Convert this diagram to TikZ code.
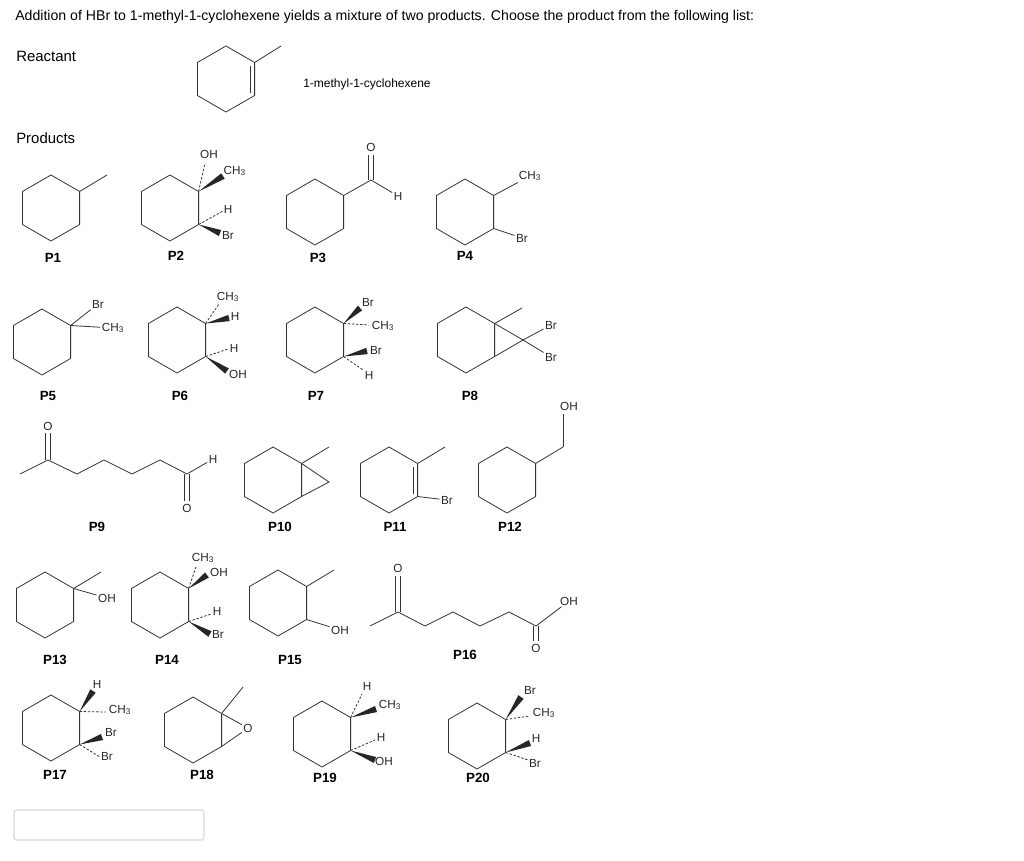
\documentclass[tikz,border=0pt]{standalone}
\usepackage{fontspec}
\setmainfont{Liberation Sans}
\usetikzlibrary{calc}
\tikzset{
 bond/.style={line width=0.6pt,draw=black!80},
 hbond/.style={bond,dash pattern=on 1.8pt off 1.3pt},
 sub/.style={font=\fontsize{8.8}{10}\selectfont,inner sep=1pt,text=black!85},
 plab/.style={font=\bfseries\fontsize{10}{12}\selectfont},
 txt/.style={font=\fontsize{10.6}{12}\selectfont,anchor=west,inner sep=0},
}
\newcommand\ring[3]{%
 \coordinate (#1t) at (#2,{#3-33});
 \coordinate (#1r1) at ({#2+28.6},{#3-16.5});
 \coordinate (#1r2) at ({#2+28.6},{#3+16.5});
 \coordinate (#1b) at (#2,{#3+33});
 \coordinate (#1l2) at ({#2-28.6},{#3+16.5});
 \coordinate (#1l1) at ({#2-28.6},{#3-16.5});
 \draw[bond] (#1t)--(#1r1)--(#1r2)--(#1b)--(#1l2)--(#1l1)--cycle;}
\newcommand\wdg[2]{\fill[black!85] (#1) -- ($(#2)!2.4pt!90:(#1)$) -- ($(#2)!2.4pt!-90:(#1)$) -- cycle;}
\newcommand\dbl[2]{\draw[bond] ($(#1)!2pt!90:(#2)$) -- ($(#2)!2pt!-90:(#1)$); \draw[bond] ($(#1)!2pt!-90:(#2)$) -- ($(#2)!2pt!90:(#1)$);}
\begin{document}
\begin{tikzpicture}[x=0.75pt,y=-0.75pt]
\useasboundingbox (0,0) rectangle (1024,860);
\node[txt] (title) at (15,17) {Addition of HBr to 1-methyl-1-cyclohexene yields a mixture of two products. Choose the product from the following list:};
\node[txt,font=\fontsize{11.2}{13}\selectfont] (react) at (16,56) {Reactant};
\node[txt,font=\fontsize{11.2}{13}\selectfont] (prods) at (16,138) {Products};
% reactant
\ring{R}{226}{79}
\coordinate (Rm) at (281,46);
\draw[bond] (Rr1)--(Rm);
\draw[bond] ($(Rr1)+(-4.5,3)$)--($(Rr2)+(-4.5,-3)$);
\node[txt,font=\fontsize{9}{10}\selectfont] (rname) at (303,84) {1-methyl-1-cyclohexene};
% P1
\ring{A}{51}{208}
\coordinate (Am) at (107,175); \draw[bond] (Ar1)--(Am);
\node[plab] (p1) at (53,258) {P1};
% P2
\ring{B}{170}{208}
\node[sub] (Boh) at (209,154) {OH}; \coordinate (Bh1) at (205,163); \draw[hbond] (Br1)--(Bh1);
\node[sub,anchor=west] (Bme) at (222,171) {CH\textsubscript{3}}; \coordinate (Bw1) at (223,176); \wdg{Br1}{Bw1}
\node[sub] (Bh) at (228,209) {H}; \coordinate (Bh2) at (223,211); \draw[hbond] (Br2)--(Bh2);
\node[sub] (Bbr) at (228,235) {Br}; \coordinate (Bw2) at (220,233); \wdg{Br2}{Bw2}
\node[plab] (p2) at (176,256) {P2};
% P3
\ring{C}{315}{212}
\coordinate (Cc) at (371,180); \draw[bond] (Cr1)--(Cc);
\node[sub] (Co) at (371,147) {O}; \coordinate (Co1) at (371,155); \dbl{Cc}{Co1}
\node[sub] (Ch) at (398,196) {H}; \draw[bond] (Cc)--(Ch);
\node[plab] (p3) at (318,258) {P3};
% P4
\ring{D}{465}{212}
\node[sub] (Dme) at (530,176) {CH\textsubscript{3}}; \draw[bond] (Dr1)--(Dme);
\node[sub] (Dbr) at (522,238) {Br}; \draw[bond] (Dr2)--(Dbr);
\node[plab] (p4) at (465,256) {P4};
% P5
\ring{E}{42}{342}
\node[sub] (Ebr) at (98,304) {Br}; \draw[bond] (Er1)--(Ebr);
\node[sub] (Eme) at (113,328) {CH\textsubscript{3}}; \draw[bond] (Er1)--(Eme);
\node[plab] (p5) at (48,396) {P5};
% P6
\ring{F}{177}{340}
\node[sub] (Fme) at (228,297) {CH\textsubscript{3}}; \coordinate (Fh1) at (219,304); \draw[hbond] (Fr1)--(Fh1);
\node[sub] (Fh) at (235,316) {H}; \coordinate (Fw1) at (229,318); \wdg{Fr1}{Fw1}
\node[sub] (Fh2t) at (234,348) {H}; \coordinate (Fh2) at (228,349); \draw[hbond] (Fr2)--(Fh2);
\node[sub] (Foh) at (238,374) {OH}; \coordinate (Fw2) at (227,371); \wdg{Fr2}{Fw2}
\node[plab] (p6) at (180,396) {P6};
% P7
\ring{G}{315}{340}
\node[sub] (Gbr1) at (368,302) {Br}; \coordinate (Gw1) at (360,308); \wdg{Gr1}{Gw1}
\node[sub] (Gme) at (383,326) {CH\textsubscript{3}}; \coordinate (Gh1) at (369,325); \draw[hbond] (Gr1)--(Gh1);
\node[sub] (Gbr2) at (376,350) {Br}; \coordinate (Gw2) at (367,351); \wdg{Gr2}{Gw2}
\node[sub] (Gh) at (369,375) {H}; \coordinate (Gh2) at (363,370); \draw[hbond] (Gr2)--(Gh2);
\node[plab] (p7) at (316,396) {P7};
% P8
\ring{H}{466}{340}
\coordinate (Hm) at (522,308); \draw[bond] (Hr1)--(Hm);
\coordinate (Hap) at (523,340); \draw[bond] (Hr1)--(Hap)--(Hr2);
\node[sub] (Hbr1) at (551,325) {Br}; \draw[bond] (Hap)--(Hbr1);
\node[sub] (Hbr2) at (551,357) {Br}; \draw[bond] (Hap)--(Hbr2);
\node[plab] (p8) at (470,396) {P8};
% P9
\coordinate (I0) at (20,474); \coordinate (I1) at (48,460); \coordinate (I2) at (77,474);
\coordinate (I3) at (104,460); \coordinate (I4) at (132,474); \coordinate (I5) at (160,460);
\coordinate (I6) at (187,474);
\draw[bond] (I0)--(I1)--(I2)--(I3)--(I4)--(I5)--(I6);
\node[sub] (Io1) at (48,426) {O}; \coordinate (Io1b) at (48,433); \dbl{I1}{Io1b}
\node[sub] (Io2) at (187,508) {O}; \coordinate (Io2b) at (187,501); \dbl{I6}{Io2b}
\node[sub] (Ih) at (213,459) {H}; \draw[bond] (I6)--(Ih);
\node[plab] (p9) at (97,527) {P9};
% P10
\ring{J}{273}{480}
\coordinate (Jm) at (329,447); \draw[bond] (Jr1)--(Jm);
\coordinate (Jap) at (329,482); \draw[bond] (Jr1)--(Jap)--(Jr2);
\node[plab] (p10) at (280,527) {P10};
% P11
\ring{K}{389}{480}
\coordinate (Km) at (445,447); \draw[bond] (Kr1)--(Km);
\draw[bond] ($(Kr1)+(-4.5,3)$)--($(Kr2)+(-4.5,-3)$);
\node[sub] (Kbr) at (447,500) {Br}; \draw[bond] (Kr2)--(Kbr);
\node[plab] (p11) at (395,527) {P11};
% P12
\ring{L}{507}{480}
\coordinate (Lc) at (563,447); \draw[bond] (Lr1)--(Lc);
\node[sub] (Loh) at (569,406) {OH}; \coordinate (Lo) at (563,414); \draw[bond] (Lc)--(Lo);
\node[plab] (p12) at (510,527) {P12};
% P13
\ring{M}{45}{605}
\coordinate (Mm) at (101,572); \draw[bond] (Mr1)--(Mm);
\node[sub] (Moh) at (107,598) {OH}; \draw[bond] (Mr1)--(Moh);
\node[plab] (p13) at (55,660) {P13};
% P14
\ring{N}{160}{605}
\node[sub] (Nme) at (203,558) {CH\textsubscript{3}}; \coordinate (Nh1) at (196,567); \draw[hbond] (Nr1)--(Nh1);
\node[sub] (Noh) at (219,572) {OH}; \coordinate (Nw1) at (207,575); \wdg{Nr1}{Nw1}
\node[sub] (Nh) at (217,611) {H}; \coordinate (Nh2) at (211,614); \draw[hbond] (Nr2)--(Nh2);
\node[sub] (Nbr) at (218,634) {Br}; \coordinate (Nw2) at (210,634); \wdg{Nr2}{Nw2}
\node[plab] (p14) at (167,660) {P14};
% P15
\ring{O}{278}{603}
\coordinate (Om) at (334,570); \draw[bond] (Or1)--(Om);
\node[sub] (Ooh) at (340,630) {OH}; \draw[bond] (Or2)--(Ooh);
\node[plab] (p15) at (290,660) {P15};
% P16
\coordinate (Q0) at (370,626); \coordinate (Q1) at (398,612); \coordinate (Q2) at (425,626);
\coordinate (Q3) at (453,612); \coordinate (Q4) at (480,626); \coordinate (Q5) at (509,612);
\coordinate (Q6) at (536,626);
\draw[bond] (Q0)--(Q1)--(Q2)--(Q3)--(Q4)--(Q5)--(Q6);
\node[sub] (Qo1) at (398,568) {O}; \coordinate (Qo1b) at (398,576); \dbl{Q1}{Qo1b}
\node[sub] (Qo2) at (536,648) {O}; \coordinate (Qo2b) at (536,641); \dbl{Q6}{Qo2b}
\node[sub] (Qoh) at (569,601) {OH}; \draw[bond] (Q6)--(Qoh);
\node[plab] (p16) at (465,655) {P16};
% P17
\ring{S}{51}{728}
\node[sub] (Sh) at (97,684) {H}; \coordinate (Sw1) at (93,691); \wdg{Sr1}{Sw1}
\node[sub] (Sme) at (120,710) {CH\textsubscript{3}}; \coordinate (Sh1) at (106,712); \draw[hbond] (Sr1)--(Sh1);
\node[sub] (Sbr1) at (111,732) {Br}; \coordinate (Sw2) at (102,737); \wdg{Sr2}{Sw2}
\node[sub] (Sbr2) at (107,756) {Br}; \coordinate (Sh2) at (100,757); \draw[hbond] (Sr2)--(Sh2);
\node[plab] (p17) at (55,775) {P17};
% P18
\ring{T}{193}{730}
\coordinate (Tm) at (243,687); \draw[bond] (Tr1)--(Tm);
\node[sub] (To) at (248,728) {O}; \draw[bond] (Tr1)--(To)--(Tr2);
\node[plab] (p18) at (202,775) {P18};
% P19
\ring{U}{322}{734}
\node[sub] (Uh) at (367,686) {H}; \coordinate (Uh1) at (362,694); \draw[hbond] (Ur1)--(Uh1);
\node[sub] (Ume) at (390,705) {CH\textsubscript{3}}; \coordinate (Uw1) at (376,709); \wdg{Ur1}{Uw1}
\node[sub] (Uh2t) at (381,737) {H}; \coordinate (Uh2) at (375,740); \draw[hbond] (Ur2)--(Uh2);
\node[sub] (Uoh) at (384,761) {OH}; \coordinate (Uw2) at (375,760); \wdg{Ur2}{Uw2}
\node[plab] (p19) at (325,778) {P19};
% P20
\ring{V}{477}{736}
\node[sub] (Vbr1) at (530,690) {Br}; \coordinate (Vw1) at (521,697); \wdg{Vr1}{Vw1}
\node[sub] (Vme) at (544,713) {CH\textsubscript{3}}; \coordinate (Vh1) at (530,716); \draw[hbond] (Vr1)--(Vh1);
\node[sub] (Vh) at (536,738) {H}; \coordinate (Vw2) at (530,743); \wdg{Vr2}{Vw2}
\node[sub] (Vbr2) at (535,763) {Br}; \coordinate (Vh2) at (528,760); \draw[hbond] (Vr2)--(Vh2);
\node[plab] (p20) at (478,778) {P20};
% answer box
\draw[black!15,line width=0.8pt,rounded corners=2pt] (14,810) rectangle (204,840);
\end{tikzpicture}
\end{document}
